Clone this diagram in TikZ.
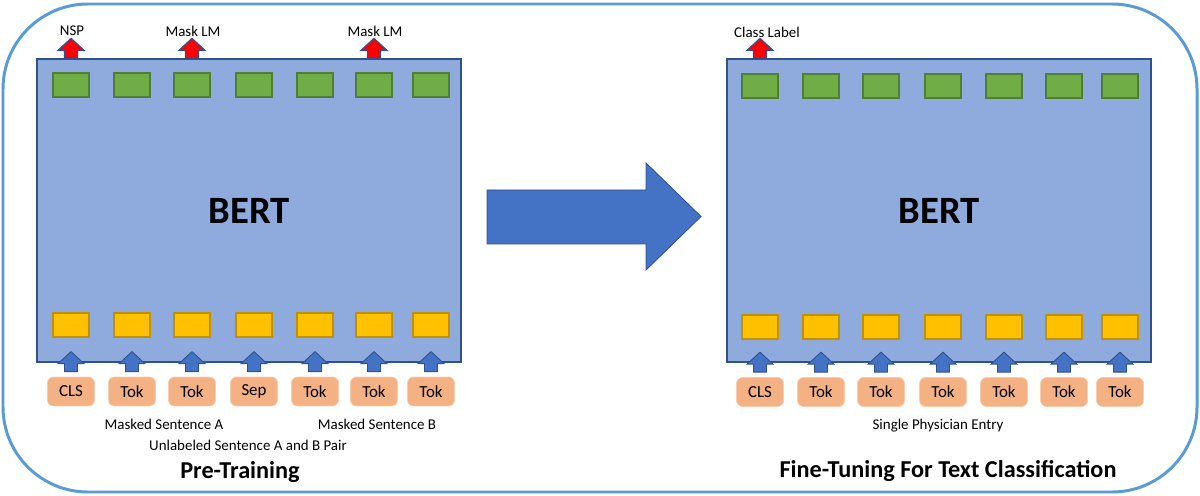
\documentclass[tikz,border=0pt]{standalone}
\usepackage{fontspec}
\setmainfont{Carlito}
\usetikzlibrary{calc}
\definecolor{frameblue}{HTML}{5B9BD5}
\definecolor{bertfill}{HTML}{8FAADC}
\definecolor{bertline}{HTML}{2F528F}
\definecolor{outgreen}{HTML}{70AD47}
\definecolor{greenline}{HTML}{507E32}
\definecolor{embyellow}{HTML}{FFC000}
\definecolor{yellowline}{HTML}{BF9000}
\definecolor{tokfill}{HTML}{F4B183}
\definecolor{tokline}{HTML}{F8CBAD}
\definecolor{arrblue}{HTML}{4472C4}
% block arrow pointing up, #2 is the middle of its foot
\newcommand\blockup[2]{\draw[#1] #2 ++(-6.5,0) -- ++(0,-8) -- ++(-6.5,0) -- ++(13,-12)
  -- ++(13,12) -- ++(-6.5,0) -- ++(0,8) -- cycle;}
\begin{document}
\begin{tikzpicture}[x=0.02cm,y=-0.02cm,
  bertbox/.style={draw=bertline,fill=bertfill,line width=0.7pt,minimum width=8.48cm,
    minimum height=6.06cm,font=\fontsize{22}{26}\selectfont\bfseries},
  outbox/.style={draw=greenline,fill=outgreen,line width=0.8pt,minimum width=0.72cm,minimum height=0.48cm},
  embbox/.style={draw=yellowline,fill=embyellow,line width=0.8pt,minimum width=0.72cm,minimum height=0.48cm},
  tokbox/.style={draw=tokline,fill=tokfill,rounded corners=0.12cm,minimum width=0.94cm,
    minimum height=0.58cm,font=\fontsize{9.6}{11}\selectfont},
  inarrow/.style={fill=arrblue,draw=bertline,line width=0.5pt},
  taskarrow/.style={fill=red,draw=bertline,line width=0.7pt},
  lbl/.style={font=\fontsize{8.5}{10}\selectfont},
  title/.style={font=\fontsize{13.8}{16}\selectfont\bfseries}]
\useasboundingbox (0,0) rectangle (1200,496);
\draw[frameblue,line width=1.7pt,rounded corners=1.7cm] (3,4) rectangle (1197,492);

\node[bertbox] (bertL) at (249,210.5) {BERT};
\node[bertbox] (bertR) at (939,210.5) {BERT};

% pre-training side
\foreach \x/\t [count=\i] in {71/CLS,132/Tok,192/Tok,254/Sep,315/Tok,374/Tok,431/Tok}{
  \node[outbox] (gL\i) at (\x,85) {};
  \node[embbox] (yL\i) at (\x,325) {};
  \node[tokbox] (tL\i) at (\x,391.5) {\t};
  \blockup{inarrow}{($(tL\i.north)+(0,-5)$)}
}
\foreach \i in {1,3,6}{\blockup{taskarrow}{(gL\i |- bertL.north)}}
\node[lbl] at (72,31) {NSP};
\node[lbl] at (193,31) {Mask LM};
\node[lbl] at (375,31) {Mask LM};
\node[lbl] at (164,424) {Masked Sentence A};
\node[lbl] at (377,424) {Masked Sentence B};
\node[lbl] at (248,445) {Unlabeled Sentence A and B Pair};
\node[title] at (240,472) {Pre-Training};

% fine-tuning side
\foreach \x [count=\i] in {760,821,881,943,1004,1064,1120}{
  \node[outbox] (gR\i) at (\x,86) {};
  \node[embbox] (yR\i) at (\x,327) {};
  \node[tokbox] (tR\i) at (\x,392) {\ifnum\i=1 CLS\else Tok\fi};
  \blockup{inarrow}{($(tR\i.north)+(0,-5)$)}
}
\blockup{taskarrow}{(gR1 |- bertR.north)}
\node[lbl] at (767,32) {Class Label};
\node[lbl] at (938,426) {Single Physician Entry};
\node[title] at (948,471) {Fine-Tuning For Text Classification};

% big arrow between the two
\draw[fill=arrblue,draw=bertline,line width=0.5pt] (487,190) -- (646,190) -- (646,163) -- (701,216.5)
  -- (646,270) -- (646,244) -- (487,244) -- cycle;
\end{tikzpicture}
\end{document}
